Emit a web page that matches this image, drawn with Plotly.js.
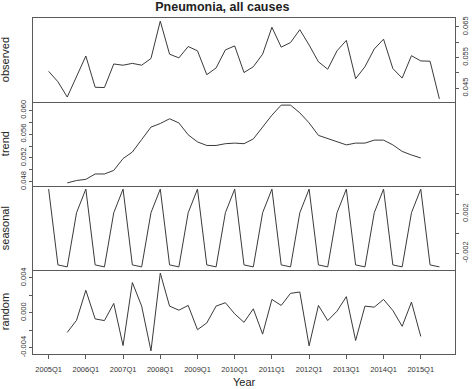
<!DOCTYPE html>
<html>
<head>
<meta charset="utf-8">
<script src="https://cdn.plot.ly/plotly-3.0.1.min.js"></script>
<style>html,body{margin:0;padding:0;background:#fff;}#chart{width:474px;height:389px;}</style>
</head>
<body>
<div id="chart"></div>
<script>
// ---- data ----
const quarters = ["2005Q1","2005Q2","2005Q3","2005Q4","2006Q1","2006Q2","2006Q3","2006Q4",
  "2007Q1","2007Q2","2007Q3","2007Q4","2008Q1","2008Q2","2008Q3","2008Q4",
  "2009Q1","2009Q2","2009Q3","2009Q4","2010Q1","2010Q2","2010Q3","2010Q4",
  "2011Q1","2011Q2","2011Q3","2011Q4","2012Q1","2012Q2","2012Q3","2012Q4",
  "2013Q1","2013Q2","2013Q3","2013Q4","2014Q1","2014Q2","2014Q3","2014Q4",
  "2015Q1","2015Q2","2015Q3"];
const observed = [0.0505,0.0471,0.0421,0.0490,0.0555,0.0453,0.0452,0.0529,0.0525,0.0531,0.0525,0.0547,
  0.0669,0.0561,0.0549,0.0586,0.0572,0.0494,0.0516,0.0575,0.0588,0.0501,0.0520,0.0561,
  0.0649,0.0584,0.0599,0.0641,0.0591,0.0536,0.0512,0.0572,0.0606,0.0481,0.0520,0.0578,
  0.0610,0.0514,0.0483,0.0556,0.0539,0.0538,0.0415];
const trend = [null,null,0.0478,0.0482,0.0484,0.0493,0.0493,0.0499,0.0519,0.0530,0.0551,0.0572,
  0.0578,0.0586,0.0579,0.0559,0.0547,0.0541,0.0541,0.0544,0.0545,0.0544,0.0552,0.0572,
  0.0592,0.0609,0.0609,0.0596,0.0579,0.0558,0.0553,0.0548,0.0542,0.0545,0.0545,0.0550,
  0.0550,0.0542,0.0531,0.0525,0.0520,null,null];
const seasonal = [0.0045,-0.0032,-0.0034,0.0021,0.0045,-0.0032,-0.0034,0.0021,0.0045,-0.0032,-0.0034,0.0021,
  0.0045,-0.0032,-0.0034,0.0021,0.0045,-0.0032,-0.0034,0.0021,0.0045,-0.0032,-0.0034,0.0021,
  0.0045,-0.0032,-0.0034,0.0021,0.0045,-0.0032,-0.0034,0.0021,0.0045,-0.0032,-0.0034,0.0021,
  0.0045,-0.0032,-0.0034,0.0021,0.0045,-0.0032,-0.0034];
const random = [null,null,-0.00225,-0.00086,0.00259,-0.00070,-0.00089,0.00108,-0.00376,0.00348,0.00077,-0.00437,
  0.00456,0.00077,0.00030,0.00085,-0.00194,-0.00116,0.00077,0.00116,-0.00012,-0.00109,0.00046,-0.00244,
  0.00154,0.00085,0.00224,0.00239,-0.00379,0.00085,-0.00089,0.00019,0.00186,-0.00318,0.00077,0.00065,
  0.00154,0.00027,-0.00155,0.00123,-0.00271,null,null];
const panelNames = ["observed","trend","seasonal","random"];
const xTickLabels = ["2005Q1","2006Q1","2007Q1","2008Q1","2009Q1","2010Q1","2011Q1","2012Q1","2013Q1","2014Q1","2015Q1"];
const obsTicks = [0.045,0.050,0.055,0.060,0.065];
const obsTickText = ["0.045","","0.055","","0.065"];
const trendTicks = [0.048,0.050,0.052,0.054,0.056,0.058,0.060];
const trendTickText = ["0.048","","0.052","","0.056","","0.060"];
const seasTicks = [-0.002,0.000,0.002,0.004];
const seasTickText = ["-0.002","","0.002",""];
const randTicks = [-0.004,-0.002,0.000,0.002,0.004];
const randTickText = ["-0.004","","0.000","","0.004"];

// ---- build ----
function qToNum(q){ return parseInt(q.slice(0,4)) + (parseInt(q.slice(5))-1)/4; }
const t = quarters.map(qToNum);
const xTickVals = xTickLabels.map(qToNum);
function padRange(arr){
  const v = arr.filter(d => d !== null);
  const lo = Math.min(...v), hi = Math.max(...v), p = (hi-lo)*0.04;
  return [lo-p, hi+p];
}
const xr = padRange(t);
const series = [observed, trend, seasonal, random];
const ticks = [[obsTicks,obsTickText],[trendTicks,trendTickText],[seasTicks,seasTickText],[randTicks,randTickText]];
const sides = ["right","left","right","left"];
const lineCol = "#3a3a3a", frameCol = "#5a5a5a", txtCol = "#333";
const tickFont = {family:"Liberation Sans Narrow, Liberation Sans, Arial, sans-serif", size:7.5, color:txtCol};

const traces = [];
const layout = {
  width:474, height:389,
  margin:{l:33, r:19, t:18, b:35},
  paper_bgcolor:"#fff", plot_bgcolor:"#fff",
  showlegend:false,
  font:{family:"Liberation Sans, Arial, sans-serif", color:txtCol},
  title:{text:"<b>Pneumonia, all causes</b>", font:{size:12.5, family:"Liberation Sans, Arial, sans-serif", color:"#222"},
         xref:"container", x:0.469, xanchor:"center", yref:"container", y:0.983, yanchor:"middle"},
  annotations:[]
};
for (let k=0;k<4;k++){
  const xa = k===0 ? "x" : "x"+(k+1);
  const ya = k===0 ? "y" : "y"+(k+1);
  traces.push({x:t, y:series[k], type:"scatter", mode:"lines", xaxis:xa, yaxis:ya,
    line:{color:lineCol, width:1}, connectgaps:false, hoverinfo:"skip"});
  const yr = padRange(series[k]);
  const top = 1 - k*0.25, bot = 1 - (k+1)*0.25;
  const xKey = k===0 ? "xaxis" : "xaxis"+(k+1);
  const yKey = k===0 ? "yaxis" : "yaxis"+(k+1);
  const bottom = (k===3);
  layout[xKey] = {
    anchor: ya, range: xr, showgrid:false, zeroline:false,
    showline:true, mirror:(k===0), linecolor:frameCol, linewidth:1,
    tickvals: xTickVals, ticktext: xTickLabels,
    ticks: bottom ? "outside" : "", ticklen:4, tickcolor:frameCol,
    showticklabels: bottom, tickfont: tickFont, ticklabelstandoff: 4
  };
  if (k>0) layout[xKey].matches = "x";
  layout[yKey] = {
    domain:[bot, top], anchor: xa, side: sides[k], range: yr,
    showgrid:false, zeroline:false, showline:true, mirror:true,
    linecolor:frameCol, linewidth:1,
    tickvals: ticks[k][0], ticktext: ticks[k][1],
    ticks:"outside", ticklen:3, tickcolor:frameCol, tickangle:-90,
    tickfont: tickFont
  };
  layout.annotations.push({text:panelNames[k], xref:"paper", yref:"paper",
    x:-0.066, y:(top+bot)/2, xanchor:"center", yanchor:"middle", textangle:-90,
    showarrow:false, font:{size:11, color:"#222"}});
}
layout.annotations.push({text:"Year", xref:"paper", yref:"paper", x:0.5, y:-0.083,
  xanchor:"center", yanchor:"middle", showarrow:false, font:{size:11, color:"#222"}});

Plotly.newPlot("chart", traces, layout, {displayModeBar:false, staticPlot:true});
</script>
</body>
</html>
